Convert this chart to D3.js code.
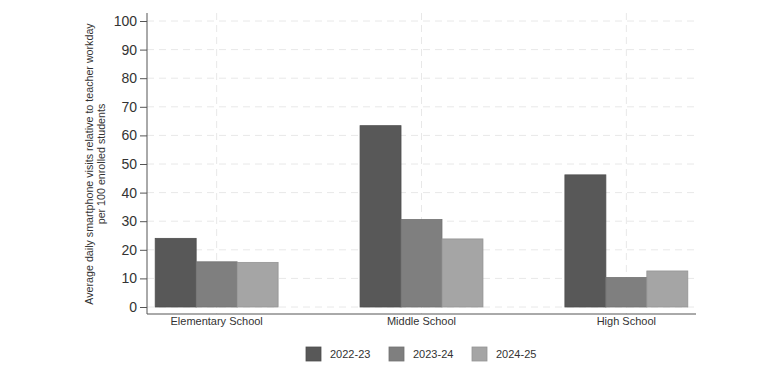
<!DOCTYPE html>
<html>
<head>
<meta charset="utf-8">
<script src="https://cdn.jsdelivr.net/npm/d3@7"></script>
<style>
  body { margin: 0; background: #fff; }
  svg { font-family: "Liberation Sans", Arial, sans-serif; }
</style>
</head>
<body>
<div id="chart"></div>
<script>
const categories = ["Elementary School", "Middle School", "High School"];
const series = ["2022-23", "2023-24", "2024-25"];
const values2022 = [24.0, 63.4, 46.2];
const values2023 = [15.8, 30.6, 10.3];
const values2024 = [15.6, 23.8, 12.6];
const yTicks = [0, 10, 20, 30, 40, 50, 60, 70, 80, 90, 100];
const colors = ["#585858", "#7f7f7f", "#a5a5a5"];

const width = 780;
const height = 376;
const margin = { top: 13, left: 147, right: 84, bottom: 62 };
const plotBottom = 314;

const svg = d3.select("#chart")
  .append("svg")
  .attr("width", width)
  .attr("height", height);

const rows = categories.map((c, i) => ({
  category: c,
  vals: [values2022[i], values2023[i], values2024[i]]
}));

const x0 = d3.scaleBand()
  .domain(categories)
  .range([margin.left, width - margin.right])
  .paddingInner(0.4)
  .paddingOuter(0.04);

const x1 = d3.scaleBand()
  .domain(series)
  .range([0, x0.bandwidth()]);

const y = d3.scaleLinear()
  .domain([0, 100])
  .range([307, 21]);

// gridlines
svg.append("g")
  .selectAll("line")
  .data(yTicks)
  .join("line")
  .attr("x1", margin.left)
  .attr("x2", width - margin.right)
  .attr("y1", d => y(d))
  .attr("y2", d => y(d))
  .attr("stroke", "#e8e8e8")
  .attr("stroke-dasharray", "7,5");

svg.append("g")
  .selectAll("line")
  .data(categories)
  .join("line")
  .attr("x1", d => x0(d) + x0.bandwidth() / 2)
  .attr("x2", d => x0(d) + x0.bandwidth() / 2)
  .attr("y1", margin.top)
  .attr("y2", plotBottom)
  .attr("stroke", "#e8e8e8")
  .attr("stroke-dasharray", "7,5");

// bars
svg.append("g")
  .selectAll("g")
  .data(rows)
  .join("g")
  .attr("transform", d => `translate(${x0(d.category)},0)`)
  .selectAll("rect")
  .data(d => d.vals.map((v, i) => ({ key: series[i], value: v, i })))
  .join("rect")
  .attr("x", d => x1(d.key))
  .attr("width", x1.bandwidth())
  .attr("y", d => y(d.value))
  .attr("height", d => y(0) - y(d.value))
  .attr("fill", d => colors[d.i])
  .attr("stroke", d => d3.color(colors[d.i]).darker(0.3))
  .attr("stroke-width", 0.8);

// y axis
const yAxis = d3.axisLeft(y)
  .tickValues(yTicks)
  .tickSize(7)
  .tickPadding(3);

const yg = svg.append("g")
  .attr("transform", `translate(${margin.left},0)`)
  .call(yAxis);
yg.select(".domain").remove();
yg.append("line")
  .attr("x1", 0).attr("x2", 0)
  .attr("y1", margin.top).attr("y2", plotBottom)
  .attr("stroke", "#555");
yg.selectAll(".tick line").attr("stroke", "#555");
yg.selectAll(".tick text")
  .attr("fill", "#333")
  .style("font-size", "14px");

// x axis
svg.append("line")
  .attr("x1", margin.left).attr("x2", width - margin.right)
  .attr("y1", plotBottom).attr("y2", plotBottom)
  .attr("stroke", "#555");

svg.append("g")
  .selectAll("text")
  .data(categories)
  .join("text")
  .attr("x", d => x0(d) + x0.bandwidth() / 2)
  .attr("y", 325)
  .attr("text-anchor", "middle")
  .attr("fill", "#333")
  .style("font-size", "11px")
  .text(d => d);

// y label
const yl = svg.append("text")
  .attr("transform", `translate(93,164) rotate(-90)`)
  .attr("text-anchor", "middle")
  .attr("fill", "#333")
  .style("font-size", "10.7px");
yl.append("tspan").attr("x", 0).attr("dy", 0)
  .text("Average daily smartphone visits relative to teacher workday");
yl.append("tspan").attr("x", 0).attr("dy", 12)
  .text("per 100 enrolled students");

// legend
const legendX = d3.scalePoint()
  .domain(series)
  .range([306, 472]);

const lg = svg.append("g")
  .selectAll("g")
  .data(series)
  .join("g")
  .attr("transform", d => `translate(${legendX(d)},347)`);

lg.append("rect")
  .attr("width", 15)
  .attr("height", 14)
  .attr("fill", (d, i) => colors[i])
  .attr("stroke", (d, i) => d3.color(colors[i]).darker(0.3))
  .attr("stroke-width", 0.8);

lg.append("text")
  .attr("x", 24)
  .attr("y", 11)
  .attr("fill", "#333")
  .style("font-size", "11px")
  .text(d => d);
</script>
</body>
</html>
